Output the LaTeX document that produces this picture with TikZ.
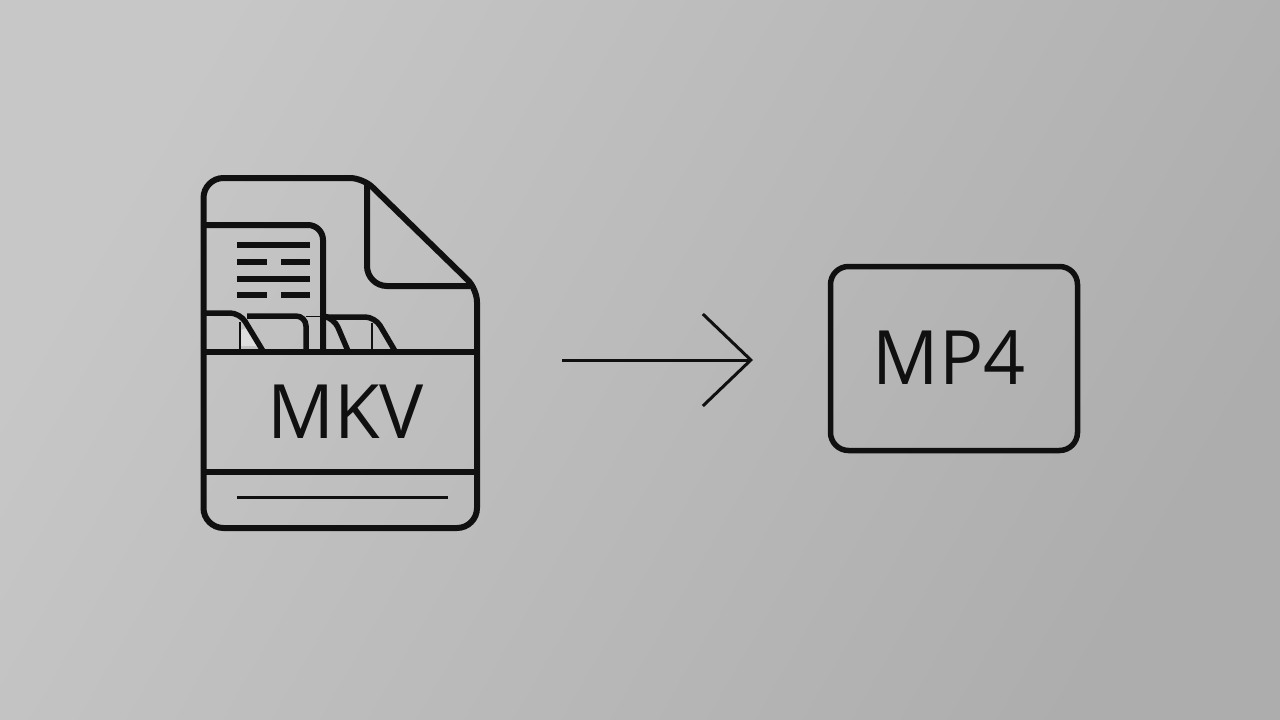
\documentclass[tikz,border=0pt]{standalone}
\usepackage{fontspec}
\setmainfont{Open Sans}
\usetikzlibrary{arrows.meta}
\definecolor{inkline}{HTML}{101010}
\tikzset{
  fileline/.style={draw=inkline, line width=6pt},
  tabline/.style={draw=inkline, line width=5.5pt, rounded corners=10pt},
  thinline/.style={draw=inkline, line width=2.2pt},
  docline/.style={draw=inkline, line width=5.5pt},
  formatlabel/.style={text=inkline, font=\fontsize{75}{75}\selectfont, inner sep=0pt}
}
\begin{document}
\begin{tikzpicture}[x=1pt,y=-1pt]
\useasboundingbox (0,0) rectangle (1280,720);
\shade[shading=axis, top color=black!22, bottom color=black!32, shading angle=60] (0,0) rectangle (1280,720);
\fill[black!13] (241,346) -- (241,330) -- (247,328) -- (258,346) -- cycle;
\draw[fileline, rounded corners=13pt] (477,400) -- (477,289) -- (363,178) [rounded corners=20pt] -- (203.5,178) -- (203.5,528) -- (477,528) -- cycle;
\draw[fileline, rounded corners=20pt] (367,184) -- (367,286) -- (470,286);
\draw[fileline, rounded corners=15pt] (204,225) -- (323,225) -- (323,351);
\foreach \y in {245,279} \draw[docline] (237,\y) -- (310,\y);
\foreach \y in {262,295} {
  \draw[docline] (237,\y) -- (267,\y);
  \draw[docline] (281,\y) -- (310,\y);
}
\draw[tabline] (204,313) -- (240,313) -- (263,351);
\draw[tabline] (247,316) -- (306,316) -- (306,351);
\draw[tabline] (323,317) -- (375,317) -- (395,351);
\draw[tabline] (328,317) -- (334,318) -- (348,351);
\draw[draw=inkline, line width=1pt] (306,316) -- (323,316);
\draw[thinline] (240,322) -- (240,351);
\draw[thinline] (372,323) -- (372,351);
\draw[fileline] (204,351.5) -- (477,351.5);
\draw[fileline] (204,472) -- (477,472);
\draw[draw=inkline, line width=3pt] (237,497.5) -- (448,497.5);
\node[formatlabel, xscale=0.99] (mkv) at (345.5,411.5) {MKV};
\node[draw=inkline, line width=5.5pt, rounded corners=18pt, minimum width=247pt, minimum height=184pt, inner sep=0pt] (mpfour) at (954,358.5) {};
\node[formatlabel, xscale=0.98] (mpfourtext) at (949,358) {MP4};
\coordinate (tail) at (562,360);
\coordinate (head) at (753,360);
\draw[draw=inkline, line width=3pt, -{Straight Barb[length=48pt,width=92pt,line width=3pt]}] (tail) -- (head);
\end{tikzpicture}
\end{document}
